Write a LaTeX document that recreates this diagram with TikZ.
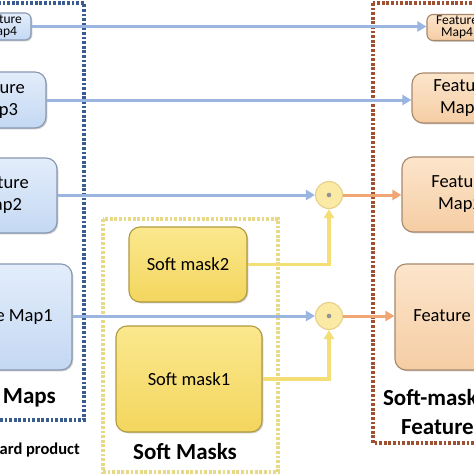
\documentclass[tikz,border=0pt]{standalone}
\usepackage{fontspec}
\setmainfont{Carlito}
\usetikzlibrary{arrows.meta,shadows}
\definecolor{bluefillA}{HTML}{E3EDFB}
\definecolor{bluefillB}{HTML}{C4D8F3}
\definecolor{bluedraw}{HTML}{8797B0}
\definecolor{yelfillA}{HTML}{FBE88E}
\definecolor{yelfillB}{HTML}{F3D65E}
\definecolor{yeldraw}{HTML}{B09A40}
\definecolor{orfillA}{HTML}{FCE5CB}
\definecolor{orfillB}{HTML}{F5CDA4}
\definecolor{ordraw}{HTML}{A8886C}
\definecolor{blueline}{HTML}{9AB6E0}
\definecolor{yelline}{HTML}{F4DF76}
\definecolor{orline}{HTML}{EFA674}
\definecolor{bluedot}{HTML}{3A5C90}
\definecolor{yeldot}{HTML}{E6D987}
\definecolor{browndot}{HTML}{9E5030}
\definecolor{circfill}{HTML}{FBEAA6}
\definecolor{circdraw}{HTML}{E6D088}
\tikzset{
  boxbase/.style={rounded corners=11pt, line width=1.1pt, align=center, inner sep=0pt,
    drop shadow={shadow xshift=1.3pt, shadow yshift=-1.3pt, opacity=0.4}},
  bluebox/.style={boxbase, draw=bluedraw, top color=bluefillA, bottom color=bluefillB},
  yelbox/.style={boxbase, draw=yeldraw, top color=yelfillA, bottom color=yelfillB},
  orbox/.style={boxbase, draw=ordraw, top color=orfillA, bottom color=orfillB},
  bigtxt/.style={font=\fontsize{18.5}{22}\selectfont},
  smalltxt/.style={font=\fontsize{13.5}{12.5}\selectfont, rounded corners=6pt},
  blab/.style={font=\fontsize{23}{29}\selectfont\bfseries, inner sep=0pt, align=center},
  bluearr/.style={draw=blueline, line width=3pt, -{Triangle[length=9pt,width=10pt]}},
  yelarr/.style={draw=yelline, line width=3.2pt, -{Triangle[length=9pt,width=10pt]}},
  orarr/.style={draw=orline, line width=3pt, -{Triangle[length=9pt,width=10pt]}},
  dotbox/.style={line width=3.2pt, dash pattern=on 2.8pt off 1.8pt},
  hcirc/.style={circle, fill=circfill, draw=circdraw, line width=1.1pt, minimum size=27pt, inner sep=0pt}
}
\begin{document}
\begin{tikzpicture}[x=1pt,y=-1pt]
\useasboundingbox (0,0) rectangle (474,474);
\clip (0,0) rectangle (474,474);
\fill[white] (0,0) rectangle (474,474);
% dotted group frames
\draw[dotbox, draw=bluedot] (-20,3) rectangle (84,420);
\draw[dotbox, draw=yeldot] (103,219) rectangle (278,472);
\draw[dotbox, draw=browndot] (373,3) rectangle (500,443);
% left feature maps
\node[bluebox, smalltxt, minimum width=60pt, minimum height=27pt] (lm4) at (1,26.5) {Feature\\Map4};
\node[bluebox, bigtxt, minimum width=100pt, minimum height=56pt] (lm3) at (-4,100) {Feature\\Map3};
\node[bluebox, bigtxt, minimum width=114pt, minimum height=75pt] (lm2) at (0,195.5) {Feature\\Map2};
\node[bluebox, bigtxt, minimum width=144pt, minimum height=106pt] (lm1) at (0,317) {Feature Map1};
% soft masks
\node[yelbox, bigtxt, minimum width=118pt, minimum height=75pt] (sm2) at (188,264.5) {Soft mask2};
\node[yelbox, bigtxt, minimum width=146pt, minimum height=106pt] (sm1) at (189,379) {Soft mask1};
% right feature maps
\node[orbox, smalltxt, minimum width=60pt, minimum height=26pt] (rm4) at (457,27.5) {Feature\\Map4};
\node[orbox, bigtxt, minimum width=100pt, minimum height=50pt] (rm3) at (462,98) {Feature\\Map3};
\node[orbox, bigtxt, minimum width=116pt, minimum height=75pt] (rm2) at (460,194.5) {Feature\\Map2};
\node[orbox, bigtxt, minimum width=142pt, minimum height=106pt] (rm1) at (466,317) {Feature Map1};
% hadamard product circles
\node[hcirc] (c2) at (329,195) {};
\node[hcirc] (c1) at (329,316) {};
\fill[gray!85] (c2.center) circle (2.3pt);
\fill[gray!85] (c1.center) circle (2.3pt);
% connectors
\draw[bluearr] (lm4.east) -- (lm4.east -| rm4.west);
\draw[bluearr] (lm3.east) -- (lm3.east -| rm3.west);
\draw[bluearr] (lm2.east |- c2.west) -- (c2.west);
\draw[bluearr] (lm1.east |- c1.west) -- (c1.west);
\draw[yelarr] (sm2.east) -| (c2.south);
\draw[yelarr] (sm1.east) -| (c1.south);
\draw[orarr] (c2.east) -- (c2.east -| rm2.west);
\draw[orarr] (c1.east) -- (c1.east -| rm1.west);
% labels
\node[blab, anchor=east] (lfm) at (56,398) {Feature Maps};
\node[blab] (lsm) at (185,452) {Soft Masks};
\node[blab] (lsf) at (442,412.5) {Soft-masked\\Features};
\node[font=\fontsize{16.5}{18}\selectfont\bfseries, anchor=east, inner sep=0pt] (lhp) at (80,450) {Hadamard product};
\end{tikzpicture}
\end{document}
